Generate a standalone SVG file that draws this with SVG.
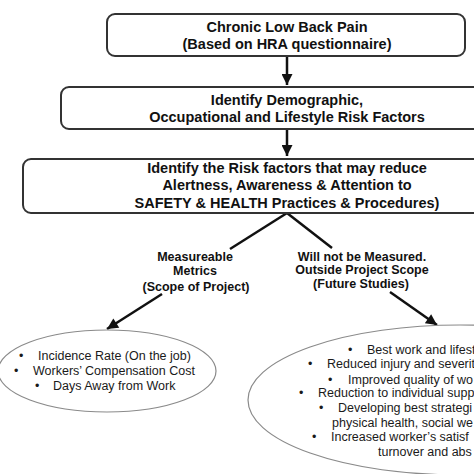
<svg xmlns="http://www.w3.org/2000/svg" width="474" height="474" viewBox="0 0 474 474">
<style>
.box{fill:#fff;stroke:#333;stroke-width:2}
.ell{fill:#fff;stroke:#8a8a8a;stroke-width:1.2}
.bt{font-family:"Liberation Sans",Arial,sans-serif;font-weight:bold;font-size:14.5px;fill:#111;text-anchor:middle}
.lb{font-family:"Liberation Sans",Arial,sans-serif;font-weight:bold;font-size:12.5px;fill:#111;text-anchor:middle}
.et{font-family:"Liberation Sans",Arial,sans-serif;font-size:12.5px;fill:#1a1a1a}
.ln{stroke:#111;stroke-width:2.5;fill:none}
</style>
<defs>
<marker id="ah" viewBox="0 0 10 10" refX="10" refY="5" markerWidth="5" markerHeight="4.4" markerUnits="strokeWidth" orient="auto">
<path d="M0,0 L10,5 L0,10 z" fill="#111"/>
</marker>
</defs>
<rect width="474" height="474" fill="#fff"/>
<g id="connectors">
<line class="ln" x1="287" y1="57" x2="287" y2="85" marker-end="url(#ah)"/>
<line class="ln" x1="287" y1="129" x2="287" y2="156" marker-end="url(#ah)"/>
<line class="ln" x1="287" y1="213" x2="230" y2="249"/>
<line class="ln" x1="287" y1="213" x2="332" y2="248"/>
<line class="ln" x1="162" y1="294" x2="107" y2="329" marker-end="url(#ah)"/>
<line class="ln" x1="390" y1="292" x2="437" y2="325" marker-end="url(#ah)"/>
</g>
<g id="node1">
<rect class="box" x="107" y="14" width="358" height="42" rx="8"/>
<text class="bt" x="287" y="32">Chronic Low Back Pain</text>
<text class="bt" x="287" y="49">(Based on HRA questionnaire)</text>
</g>
<g id="node2">
<rect class="box" x="61" y="87" width="430" height="42" rx="8"/>
<text class="bt" x="287" y="105">Identify Demographic,</text>
<text class="bt" x="287" y="122">Occupational and Lifestyle Risk Factors</text>
</g>
<g id="node3">
<rect class="box" x="23" y="159" width="470" height="54" rx="8"/>
<text class="bt" x="287" y="173">Identify the Risk factors that may reduce</text>
<text class="bt" x="287" y="190">Alertness, Awareness &amp; Attention to</text>
<text class="bt" x="287" y="207.5">SAFETY &amp; HEALTH Practices &amp; Procedures)</text>
</g>
<g id="label-left">
<text class="lb" x="195" y="261">Measureable</text>
<text class="lb" x="195" y="275">Metrics</text>
<text class="lb" x="196" y="291">(Scope of Project)</text>
</g>
<g id="label-right">
<text class="lb" x="362" y="260.5">Will not be Measured.</text>
<text class="lb" x="362" y="273.5">Outside Project Scope</text>
<text class="lb" x="361" y="288">(Future Studies)</text>
</g>
<g id="node4">
<ellipse class="ell" cx="107" cy="371" rx="109" ry="41"/>
<text class="et" x="19" y="360">•</text>
<text class="et" x="38" y="360">Incidence Rate (On the job)</text>
<text class="et" x="14" y="375">•</text>
<text class="et" x="33" y="375">Workers’ Compensation Cost</text>
<text class="et" x="35" y="390">•</text>
<text class="et" x="53" y="390">Days Away from Work</text>
</g>
<g id="node5">
<ellipse class="ell" cx="460" cy="400" rx="212" ry="75"/>
<text class="et" x="348" y="353.5">•</text>
<text class="et" x="367" y="353.5">Best work and lifest</text>
<text class="et" x="308" y="367.5">•</text>
<text class="et" x="327" y="367.5">Reduced injury and severit</text>
<text class="et" x="328" y="383.5">•</text>
<text class="et" x="348" y="383.5">Improved quality of wo</text>
<text class="et" x="299" y="396.5">•</text>
<text class="et" x="318" y="396.5">Reduction to individual supp</text>
<text class="et" x="319" y="411.5">•</text>
<text class="et" x="338" y="411.5">Developing best strategi</text>
<text class="et" x="332" y="426.5">physical health, social we</text>
<text class="et" x="312" y="440.5">•</text>
<text class="et" x="331" y="440.5">Increased worker’s satisf</text>
<text class="et" x="378" y="455.5">turnover and abs</text>
</g>
</svg>
